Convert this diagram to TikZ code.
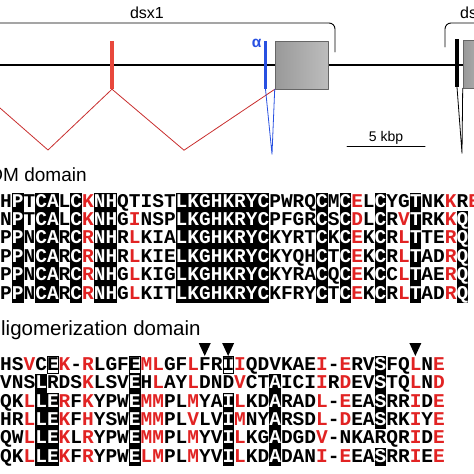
\documentclass[tikz,border=0pt]{standalone}
\usepackage{fontspec}
\setmainfont{Liberation Sans}
\setmonofont{Liberation Mono}
\definecolor{seqred}{RGB}{225,35,35}
\definecolor{exred}{RGB}{232,72,60}
\definecolor{spred}{RGB}{200,45,45}
\definecolor{exblue}{RGB}{40,80,225}
% alignment cells: black box, red residue, framed box
\newcommand\hlb[1]{{\setlength{\fboxsep}{0pt}\colorbox{black}{\rule[-3.65pt]{0pt}{18.35pt}\textcolor{white}{#1}}}}
\newcommand\hlr[1]{\textcolor{seqred}{#1}}
\newcommand\hlo[1]{{\setlength{\fboxsep}{-0.8pt}\setlength{\fboxrule}{0.8pt}\fcolorbox{black}{white}{\rule[-3.65pt]{0pt}{18.35pt}#1}}}
\begin{document}
\begin{tikzpicture}[x=1pt,y=-1pt,line cap=round,line join=round,
  seqrow/.style={anchor=base west,inner sep=0pt,font=\ttfamily\bfseries\fontsize{19.5}{18.35}\selectfont},
  title/.style={anchor=base west,inner sep=0pt,font=\fontsize{19}{22}\selectfont},
  exonbar/.style={draw=none,inner sep=0pt,minimum width=4pt,minimum height=48pt},
  exonbox/.style={draw=black!60,line width=0.6pt,left color=black!40,right color=black!26,inner sep=0pt,minimum height=48pt},
  splice/.style={line width=0.8pt}]
\useasboundingbox (0,0) rectangle (474,474);
\clip (0,0) rectangle (474,474);
% gene models
\coordinate (g0) at (0,65);
\coordinate (g1) at (474,65);
\draw[line width=1.1pt] (g0) -- (g1);
\draw[line width=0.9pt,rounded corners=6pt] (-5,23) -- (335,23) -- (335,52);
\draw[line width=0.9pt,rounded corners=6pt] (445,47) -- (445,23) -- (480,23);
\node[anchor=base,font=\fontsize{16}{18}\selectfont] (dsx1) at (147,18.3) {dsx1};
\node[anchor=base west,font=\fontsize{16}{18}\selectfont,inner sep=0pt] (dsx2) at (460,18.3) {dsx2};
\node[exonbar,fill=exred] (e2) at (112,65) {};
\node[exonbar,fill=exblue,minimum width=3.5pt] (ea) at (265.5,65) {};
\node[exonbox,minimum width=53pt] (e3) at (301.5,65) {};
\node[exonbar,fill=black] (f1) at (457,63) {};
\node[exonbox,minimum width=30pt] (f2) at (478,64) {};
\node[anchor=base,text=exblue,font=\fontsize{15.5}{18}\selectfont\bfseries] (alpha) at (256.7,47.3) {α};
\coordinate (e1) at (0,108);
\draw[splice,spred] (e1) -- ++(48,42) -- (e2.south);
\draw[splice,spred] (e2.south) -- ++(72,61) -- (e3.south west);
\draw[splice,exblue] (ea.south) -- ++(6.5,65) -- (e3.south west);
\draw[splice,black] (f1.south) -- ++(5,66) -- (f2.south west);
% scale bar
\coordinate (sb1) at (347,146);
\coordinate (sb2) at (425,146);
\draw[line width=1pt] (sb1) -- (sb2);
\node[anchor=base,font=\fontsize{14}{16}\selectfont] (kbp) at (386,141.7) {5 kbp};
% DM domain
\node[title] (dmtitle) at (-10.7,181) {DM domain};
\foreach \seq [count=\r] in {
  {H\hlb{P}T\hlb{CA}L\hlb{C}\hlr{K}\hlb{NH}QTIST\hlb{LKGHKRYC}PWRQ\hlb{C}M\hlb{C}\hlr{E}L\hlb{C}YG\hlb{T}NK\hlr{K}R\hlr{E}},
  {N\hlb{P}T\hlb{CA}L\hlb{C}\hlr{K}\hlb{NH}G\hlr{I}NSP\hlb{LKGHKRYC}PFGR\hlb{C}S\hlb{C}\hlr{D}L\hlb{C}R\hlr{V}\hlb{T}RK\hlr{K}\hlb{Q}},
  {P\hlb{P}N\hlb{CA}R\hlb{C}\hlr{R}\hlb{NH}R\hlr{L}KIA\hlb{LKGHKRYC}KYRT\hlb{C}K\hlb{C}\hlr{E}K\hlb{C}R\hlr{L}\hlb{T}TE\hlr{R}\hlb{Q}},
  {P\hlb{P}N\hlb{CA}R\hlb{C}\hlr{R}\hlb{NH}R\hlr{L}KIE\hlb{LKGHKRYC}KYQH\hlb{C}T\hlb{C}\hlr{E}K\hlb{C}R\hlr{L}\hlb{T}AD\hlr{R}\hlb{Q}},
  {P\hlb{P}N\hlb{CA}R\hlb{C}\hlr{R}\hlb{NH}G\hlr{L}KIG\hlb{LKGHKRYC}KYRA\hlb{C}Q\hlb{C}\hlr{E}K\hlb{C}C\hlr{L}\hlb{T}AE\hlr{R}\hlb{Q}},
  {P\hlb{P}N\hlb{CA}R\hlb{C}\hlr{R}\hlb{NH}G\hlr{L}KIT\hlb{LKGHKRYC}KFRY\hlb{C}T\hlb{C}\hlr{E}K\hlb{C}R\hlr{L}\hlb{T}AD\hlr{R}\hlb{Q}}}
  \node[seqrow] (dm\r) at (0,{188.9+18.35*\r}) {\seq};
% oligomerization domain
\node[title,font=\fontsize{20.5}{22}\selectfont] (oltitle) at (-15,335) {Oligomerization domain};
\foreach \c in {17,19,35}
  \fill ({11.7*\c+5.85-6},343) -- ++(12,0) -- ++(-6,13) -- cycle;
\foreach \seq [count=\r] in {
  {HS\hlr{V}C\hlo{E}\hlr{K}-\hlr{R}LGF\hlo{E}\hlr{ML}GF\hlr{L}FR\hlo{I}\hlr{I}QDVKAE\hlr{I}-\hlr{E}RV\hlb{S}FQ\hlr{L}N\hlr{E}},
  {VNS\hlb{L}RDS\hlr{K}LSV\hlb{E}H\hlr{L}AY\hlr{L}DND\hlr{V}CT\hlb{A}ICI\hlr{I}R\hlr{D}EV\hlb{S}TQ\hlr{L}N\hlr{D}},
  {QK\hlr{L}\hlb{LE}\hlr{R}F\hlr{K}YPW\hlb{E}\hlr{MM}PL\hlr{M}YA\hlb{I}\hlr{L}KD\hlb{A}RAD\hlr{L}-\hlr{E}EA\hlb{S}RR\hlr{I}D\hlr{E}},
  {HR\hlr{L}\hlb{LE}\hlr{K}F\hlr{H}YSW\hlb{E}\hlr{MM}PL\hlr{V}LV\hlb{I}\hlr{M}NY\hlb{A}RSD\hlr{L}-\hlr{D}EA\hlb{S}RK\hlr{I}Y\hlr{E}},
  {QW\hlr{L}\hlb{LE}\hlr{K}L\hlr{R}YPW\hlb{E}\hlr{MM}PL\hlr{M}YV\hlb{I}\hlr{L}KG\hlb{A}DGD\hlr{V}-NKARQR\hlr{I}D\hlr{E}},
  {QK\hlr{L}\hlb{LE}\hlr{K}F\hlr{R}YPW\hlb{E}\hlr{LM}PL\hlr{M}YV\hlb{I}\hlr{L}KD\hlb{A}DAN\hlr{I}-\hlr{E}EA\hlb{S}RR\hlr{I}E\hlr{E}}}
  \node[seqrow] (ol\r) at (0,{352.2+18.35*\r}) {\seq};
\end{tikzpicture}
\end{document}
